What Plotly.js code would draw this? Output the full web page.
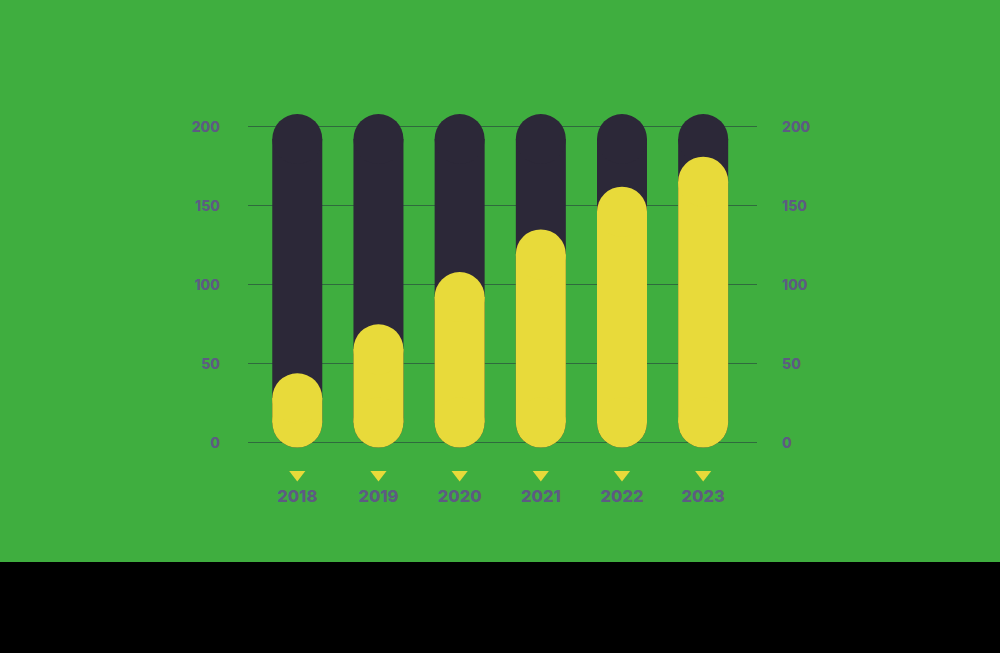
<!DOCTYPE html>
<html>
<head>
<meta charset="utf-8">
<script src="https://cdn.plot.ly/plotly-3.0.1.min.js"></script>
<style>
  html, body { margin: 0; padding: 0; background: #3fae3f; }
  #wrap { position: relative; width: 1000px; height: 653px; overflow: hidden; }
  #chart { position: absolute; left: 0; top: 0; width: 1000px; height: 653px; }
  #band { position: absolute; left: 0; top: 562px; width: 1000px; height: 91px; background: #000; }
</style>
</head>
<body>
<div id="wrap">
  <div id="chart"></div>
  <div id="band"></div>
</div>
<script>
// ---- data ----
const years = ['2018', '2019', '2020', '2021', '2022', '2023'];
const trackTop = [208, 208, 208, 208, 208, 208];   // dark pill tops
const values = [44, 75, 108, 135, 162, 181];        // yellow pill tops
const pillBase = -3;                                 // bottom of each pill
const yTicks = [0, 50, 100, 150, 200];

// ---- layout constants ----
const W = 1000, H = 653;
const yRange = [-45, 220];
const pxPerUnit = 1.58;
const zeroPx = 442.7;
const mT = zeroPx - yRange[1] * pxPerUnit;
const mB = H - (zeroPx - yRange[0] * pxPerUnit);
const mL = 247.5, mR = 243.3;
const pillPx = 50;
const r = (pillPx / 2) / pxPerUnit;  // cap radius in data units
const markerRow = -20, labelRow = -34.5;

const GREEN = '#3fae3f', DARK = '#2c2838', YELLOW = '#e8da3a', LABEL = '#5d5b82', GRID = '#2f6b3d';
const FONT = 'Inter, "DejaVu Sans", sans-serif';

function pillTrace(tops, color) {
  const xs = [], ys = [];
  years.forEach((_, i) => {
    xs.push(i, i, null);
    ys.push(pillBase + r, tops[i] - r, null);
  });
  return {
    type: 'scatter', mode: 'lines+markers', x: xs, y: ys,
    connectgaps: false, cliponaxis: false, hoverinfo: 'skip', showlegend: false,
    line: { color: color, width: pillPx },
    marker: { color: color, size: pillPx, symbol: 'circle', line: { width: 0 } }
  };
}

const triangles = {
  type: 'scatter', mode: 'markers', x: years.map((_, i) => i), y: years.map(() => markerRow),
  cliponaxis: false, hoverinfo: 'skip', showlegend: false,
  marker: { symbol: 'triangle-down', size: 14, color: YELLOW, line: { width: 0 } }
};

const yearLabels = {
  type: 'scatter', mode: 'text', x: years.map((_, i) => i), y: years.map(() => labelRow),
  text: years, textposition: 'middle center', cliponaxis: false, hoverinfo: 'skip', showlegend: false,
  textfont: { family: FONT, size: 16.5, color: LABEL, weight: 800 }
};

const dummyRight = {
  type: 'scatter', mode: 'markers', x: [0], y: [0], yaxis: 'y2',
  marker: { opacity: 0 }, hoverinfo: 'skip', showlegend: false
};

const tickFont = { family: FONT, size: 14, color: LABEL, weight: 800 };

const layout = {
  width: W, height: H,
  paper_bgcolor: GREEN, plot_bgcolor: GREEN,
  margin: { l: mL, r: mR, t: mT, b: mB, pad: 0 },
  showlegend: false,
  xaxis: {
    range: [-0.607, 5.663], showticklabels: false,
    showgrid: false, zeroline: false, showline: false, ticks: ''
  },
  yaxis: {
    range: yRange, tickvals: yTicks, ticktext: yTicks.map(String),
    showgrid: true, gridcolor: GRID, gridwidth: 1, zeroline: false, showline: false, ticks: '',
    ticklabelstandoff: 27, tickfont: tickFont
  },
  yaxis2: {
    range: yRange, tickvals: yTicks, ticktext: yTicks.map(String),
    overlaying: 'y', side: 'right',
    showgrid: false, zeroline: false, showline: false, ticks: '',
    ticklabelstandoff: 24, tickfont: tickFont
  }
};

Plotly.newPlot('chart', [pillTrace(trackTop, DARK), pillTrace(values, YELLOW), triangles, yearLabels, dummyRight], layout,
  { displayModeBar: false, staticPlot: true });
</script>
</body>
</html>
